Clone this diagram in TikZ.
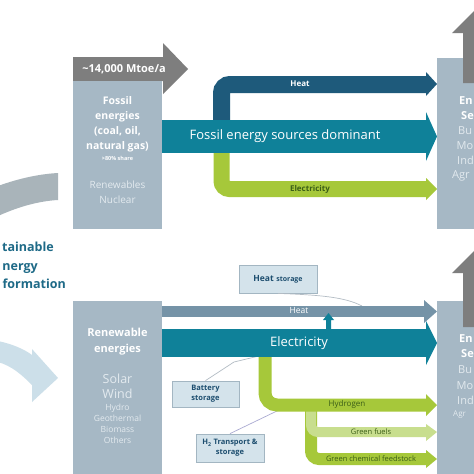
\documentclass[tikz,border=0pt]{standalone}
\usepackage{fontspec}
\setmainfont{Open Sans}
\definecolor{boxgray}{HTML}{A6B8C5}
\definecolor{arrgray}{HTML}{7E7E7E}
\definecolor{heatblue}{HTML}{1E5A7B}
\definecolor{tealband}{HTML}{0F8199}
\definecolor{elgreen}{HTML}{A6C83A}
\definecolor{darkgreen}{HTML}{3B5E17}
\definecolor{heatgray}{HTML}{7593A7}
\definecolor{lightgreen}{HTML}{C8DE8E}
\definecolor{titleblue}{HTML}{1E6A87}
\definecolor{storefill}{HTML}{D4E3EB}
\definecolor{storeline}{HTML}{A3B6C2}
\definecolor{storetext}{HTML}{1D4E6F}
\definecolor{lightarrow}{HTML}{CCDFE9}
\definecolor{arcgray}{HTML}{A9B4BA}
\definecolor{paletext}{HTML}{E3EAEF}
\definecolor{connline}{HTML}{B3BCC4}
\definecolor{connlav}{HTML}{AAAAD2}
\tikzset{
  txt/.style={inner sep=0pt, align=center},
  lt/.style={inner sep=0pt, anchor=base west},
  storebox/.style={fill=storefill, draw=storeline, line width=0.8pt, inner sep=0pt, align=center, text=storetext},
  thinconn/.style={draw=connline, line width=0.7pt},
}
\newcommand{\fsz}[2]{\fontsize{#1}{#2}\selectfont}
\begin{document}
\begin{tikzpicture}[x=1pt,y=-1pt]
\useasboundingbox (0,0) rectangle (474,474);
\clip (0,0) rectangle (474,474);
\fill[white] (0,0) rectangle (474,474);

% left decorative arrows
\fill[arcgray] (-2,186) .. controls (20,178) and (40,174) .. (58,173) -- (58,200) .. controls (40,201) and (20,206) .. (-2,216) -- cycle;
\fill[lightarrow] (-2,341) .. controls (12,344) and (24,349) .. (32,355) -- (32,349) -- (58,378) -- (32,402) -- (32,385) .. controls (22,375) and (12,366) .. (-2,362) -- cycle;

% ===== top section =====
\fill[arrgray] (73,57) -- (163,57) -- (163,43) -- (188,69) -- (163,94) -- (163,81) -- (73,81) -- cycle;
\fill[boxgray] (73,81) rectangle (162,229);

\draw[heatblue, line width=17pt, rounded corners=8.5pt] (221.5,121) -- (221.5,84.5) -- (427,84.5);
\fill[heatblue] (426,72) -- (437,84) -- (426,96) -- cycle;
\draw[elgreen, line width=16pt, rounded corners=8pt] (221.5,152) -- (221.5,189) -- (427,189);
\fill[elgreen] (426,178) -- (437,189) -- (426,200) -- cycle;
\fill[tealband] (162,120) rectangle (427,153);
\fill[tealband] (426,112) -- (437,136.5) -- (426,161) -- cycle;

\fill[boxgray] (437,58) rectangle (530,229);
\fill[arrgray] (463,83) -- (463,33) -- (452,33) -- (481,4) -- (510,33) -- (499,33) -- (499,83) -- cycle;

\node[txt, text=white, font=\fsz{11}{13}\bfseries] (mtoe) at (124,69) {\char"7E 14,000 Mtoe/a};
\node[txt, text=white, font=\fsz{10.5}{15}\bfseries] (fossil) at (117.5,124.5) {Fossil\\energies\\(coal, oil,\\natural gas)};
\node[txt, text=white, font=\fsz{5.5}{7}\bfseries] (share) at (117.5,158) {>80\% share};
\node[txt, text=paletext, font=\fsz{10}{15}] (fossilother) at (117.5,192.5) {Renewables\\Nuclear};
\node[txt, text=white, font=\fsz{13}{15}] (fesd) at (285,136) {Fossil energy sources dominant};
\node[txt, text=white, font=\fsz{8}{10}\bfseries] (heattop) at (300,84) {Heat};
\node[txt, text=darkgreen, font=\fsz{8}{10}\bfseries] (eltop) at (310,189) {Electricity};

% right box texts (cut at the picture edge, as printed)
\node[lt, text=white, font=\fsz{11}{13}\bfseries] (t1) at (459,104) {En};
\node[lt, text=white, font=\fsz{11}{13}\bfseries] (t2) at (461,119) {Se};
\node[lt, text=paletext, font=\fsz{11}{13}] (t3) at (458,134) {Bu};
\node[lt, text=paletext, font=\fsz{11}{13}] (t4) at (456.5,149) {Mo};
\node[lt, text=paletext, font=\fsz{11}{13}] (t5) at (457,164) {Ind};
\node[lt, text=paletext, font=\fsz{11}{13}] (t6) at (452,178) {Agr};

% title (cut at the left edge)
\node[inner sep=0pt, anchor=base east, text=titleblue, font=\fsz{12.5}{15}\bfseries] (ti1) at (54,251) {tainable};
\node[inner sep=0pt, anchor=base east, text=titleblue, font=\fsz{12.5}{15}\bfseries] (ti2) at (38,270) {nergy};
\node[inner sep=0pt, anchor=base east, text=titleblue, font=\fsz{12.5}{15}\bfseries] (ti3) at (66,288) {formation};

% ===== bottom section =====
\fill[boxgray] (73,301) rectangle (162,480);
\fill[boxgray] (437,301) rectangle (530,480);
\fill[arrgray] (463,327) -- (463,273) -- (452,273) -- (481,244) -- (510,273) -- (499,273) -- (499,327) -- cycle;

% storage boxes
\node[storebox, minimum width=78pt, minimum height=28pt] (hs) at (278,279) {{\fsz{8.5}{10}\bfseries Heat} {\fsz{7}{9}\bfseries storage}};
\node[storebox, minimum width=67pt, minimum height=26pt, font=\fsz{7.5}{10}\bfseries] (bat) at (205.5,394) {Battery\\storage};
\node[storebox, minimum width=68pt, minimum height=28pt, font=\fsz{7.5}{10}\bfseries] (h2) at (230,448) {H\textsubscript{2} Transport \&\\storage};

\coordinate (hsend) at (362,306);
\coordinate (batend) at (259,356);
\coordinate (h2end) at (279,410);
\draw[thinconn] (hs.south) .. controls (320,295) and (345,297) .. (hsend);
\draw[thinconn] (bat.north) -- (234,362) -- (batend);
\draw[connlav, line width=0.7pt] (h2.north) -- (h2end);

\fill[heatgray] (162,306) rectangle (425,317);
\fill[heatgray] (424,300) -- (437,311.5) -- (424,323) -- cycle;

\draw[elgreen, line width=12pt, rounded corners=8pt] (311,410) -- (311,459) -- (427,459);
\fill[elgreen] (426,450) -- (437,459) -- (426,468) -- cycle;
\draw[lightgreen, line width=10pt, rounded corners=7pt] (311,410) -- (311,432) -- (427,432);
\fill[lightgreen] (426,424) -- (437,432) -- (426,441) -- cycle;
\draw[elgreen, line width=13pt, rounded corners=12pt] (265,355) -- (265,405) -- (427,405);
\fill[elgreen] (426,394) -- (437,405) -- (426,416) -- cycle;

\fill[tealband] (162,329) rectangle (427,357);
\fill[tealband] (426,321) -- (437,343) -- (426,365) -- cycle;
\fill[tealband] (326,330) -- (326,320) -- (323,320) -- (328.5,313) -- (334,320) -- (331,320) -- (331,330) -- cycle;

\node[txt, text=white, font=\fsz{11}{16}\bfseries] (ren) at (117.5,342) {Renewable\\energies};
\node[txt, text=paletext, font=\fsz{12.5}{15}] (ren2) at (117.5,386.5) {Solar\\Wind};
\node[txt, text=paletext, font=\fsz{8.5}{11}] (ren3) at (117.5,423.5) {Hydro\\Geothermal\\Biomass\\Others};

\node[txt, text=white, font=\fsz{8.5}{10}] (heatbot) at (299,311) {Heat};
\node[txt, text=white, font=\fsz{13}{15}] (elbot) at (299,343) {Electricity};
\node[txt, text=darkgreen, font=\fsz{8}{10}] (hyd) at (347,404) {Hydrogen};
\node[txt, text=darkgreen, font=\fsz{7.5}{9}] (gf) at (371,432) {Green fuels};
\node[txt, text=darkgreen, font=\fsz{7.5}{9}] (gcf) at (371,459) {Green chemical feedstock};

\node[lt, text=white, font=\fsz{11}{13}\bfseries] (b1) at (459,342) {En};
\node[lt, text=white, font=\fsz{11}{13}\bfseries] (b2) at (461,357) {Se};
\node[lt, text=paletext, font=\fsz{11}{13}] (b3) at (458,373) {Bu};
\node[lt, text=paletext, font=\fsz{11}{13}] (b4) at (456.5,389) {Mo};
\node[lt, text=paletext, font=\fsz{11}{13}] (b5) at (457,404) {Ind};
\node[lt, text=paletext, font=\fsz{8}{10}] (b6) at (453,416) {Agr};
\end{tikzpicture}
\end{document}
